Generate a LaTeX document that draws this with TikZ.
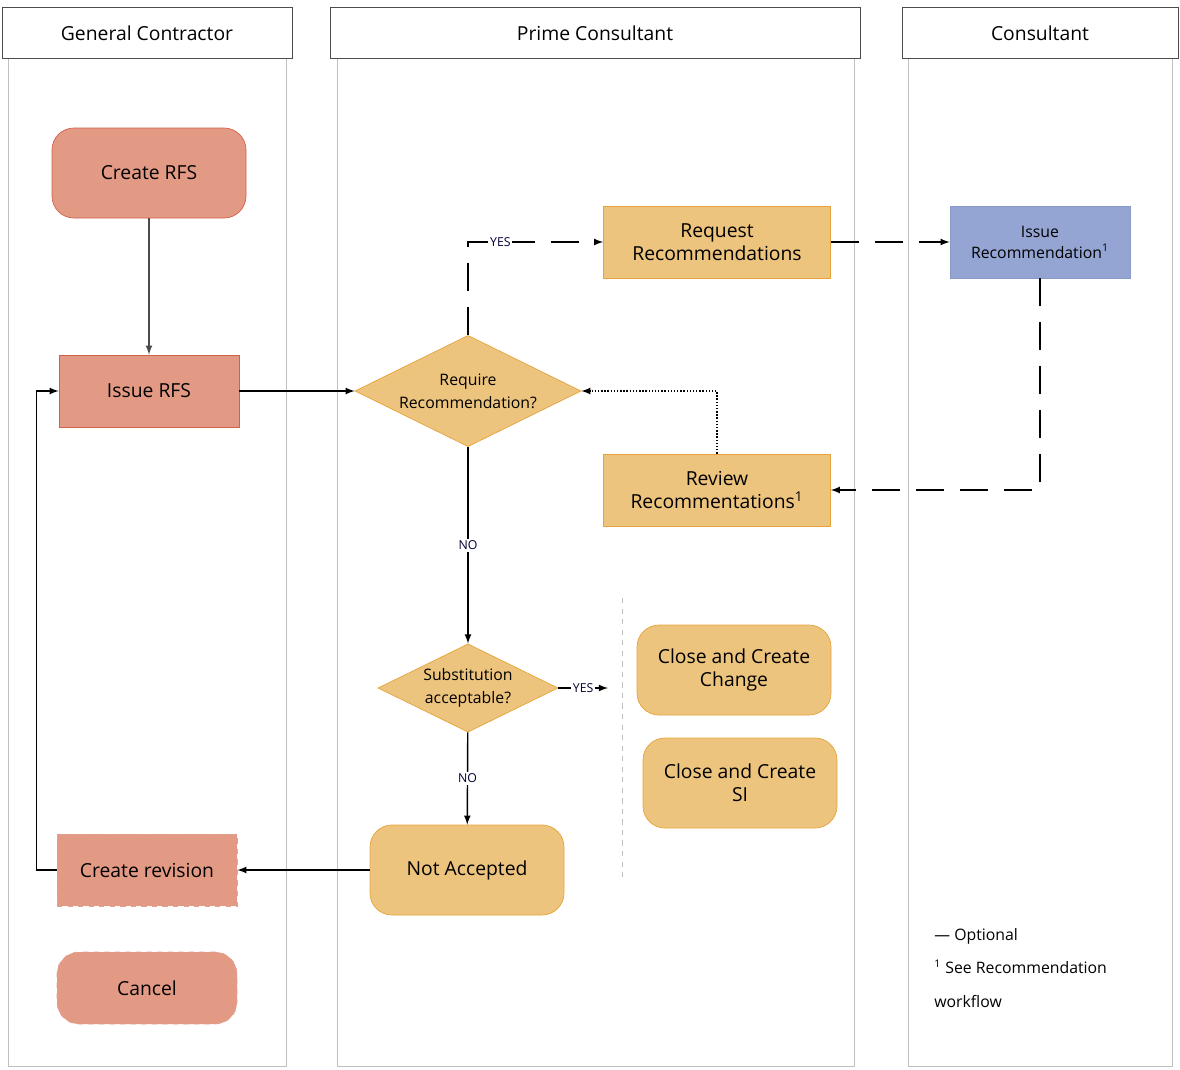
\documentclass[tikz,border=0pt]{standalone}
\usepackage{fontspec}
\setmainfont{Open Sans}
\usetikzlibrary{shapes.geometric,calc}
\definecolor{salmon}{HTML}{E39A85}
\definecolor{salmonb}{HTML}{D2604A}
\definecolor{gold}{HTML}{EDC47E}
\definecolor{goldb}{HTML}{E6A33A}
\definecolor{lav}{HTML}{95A5D3}
\definecolor{lavb}{HTML}{8A9AC8}
\definecolor{lane}{HTML}{BFBFBF}
\begin{document}
\begin{tikzpicture}[x=0.02cm,y=-0.02cm,
	header/.style={rectangle, draw=black!70, minimum width=#1*0.02cm, minimum height=51*0.02cm, font=\fontsize{11}{13}\selectfont},
	term/.style={rounded corners=22*0.02cm, draw=#1b, fill=#1, minimum width=194*0.02cm, minimum height=90*0.02cm, font=\fontsize{11}{13}\selectfont, align=center},
	proc/.style={rectangle, draw=#1b, fill=#1, minimum width=227*0.02cm, minimum height=72*0.02cm, font=\fontsize{11}{13}\selectfont, align=center},
	dec/.style={diamond, draw=goldb, fill=gold, aspect=1.8, inner sep=0pt, minimum width=#1*0.02cm, font=\fontsize{9}{13}\selectfont, align=center},
	flow/.style={-latex, thick},
	edgelab/.style={fill=white, font=\fontsize{7}{8}\selectfont, inner sep=1pt, text=black!80!blue}
		]
		\useasboundingbox (0,0) rectangle (1180,1069);
		% lanes
		\foreach \a/\b in {8/286,337/854,908/1172}
			\draw[lane] (\a,58) -- (\a,1066) -- (\b,1066) -- (\b,58);
		\node[header=290] (hgc) at (147,33) {General Contractor};
		\node[header=530] (hpc) at (595,33) {Prime Consultant};
		\node[header=276] (hco) at (1040,33) {Consultant};

		\node[term=salmon] (create) at (149,173) {Create RFS};
		\node[proc=salmon, minimum width=180*0.02cm] (issue) at (149,391) {Issue RFS};
		\node[dec=226] (require) at (468,391) {Require\\Recommendation?};
		\node[proc=gold] (request) at (717,242) {Request\\Recommendations};
		\node[proc=lav, minimum width=180*0.02cm, font=\fontsize{9}{12}\selectfont] (issuerec) at (1040,242) {Issue\\Recommendation\textsuperscript{1}};
		\node[proc=gold] (review) at (717,490) {Review\\Recommentations\textsuperscript{1}};
		\node[dec=180] (subst) at (468,688) {Substitution\\acceptable?};
		\node[term=gold] (change) at (734,670) {Close and Create\\Change};
		\node[term=gold] (si) at (740,783) {Close and Create\\SI};
		\node[term=gold] (notacc) at (467,870) {Not Accepted};
		\node[proc=salmon, draw=salmonb!60, dashed, minimum width=180*0.02cm] (revision) at (147,870) {Create revision};
		\node[term=salmon, draw=salmonb!60, dashed, minimum width=180*0.02cm, minimum height=72*0.02cm] (cancel) at (147,988) {Cancel};
		\draw[lane, dashed] (622,598) -- (622,882);
		\node[anchor=north west, align=left, font=\fontsize{9}{19}\selectfont, inner sep=0pt] (legend) at (934,928) {--- Optional\\\textsuperscript{1} See Recommendation\\workflow};

		\coordinate (yesend) at (608,688);
		\draw[flow, black!70] (create) -- (issue);
		\draw[flow] (issue) -- (require);
		\draw[flow, dash pattern=on 16pt off 9pt] (require.north) |- node[edgelab, pos=0.62] {YES} (request);
		\draw[flow, dash pattern=on 16pt off 9pt] (request) -- (issuerec);
		\draw[flow, dash pattern=on 16pt off 9pt] (issuerec.south) |- (review);
		\draw[flow, densely dotted] (review.north) |- (require.east);
		\draw[flow] (require) -- node[edgelab] {NO} (subst);
		\draw[flow] (subst.east) -- node[edgelab] {YES} (yesend);
		\draw[flow] (subst) -- node[edgelab] {NO} (notacc);
		\draw[flow] (notacc) -- (revision);
		\draw[flow] (revision.west) -- ++(-20,0) |- (issue.west);
\end{tikzpicture}
\end{document}
